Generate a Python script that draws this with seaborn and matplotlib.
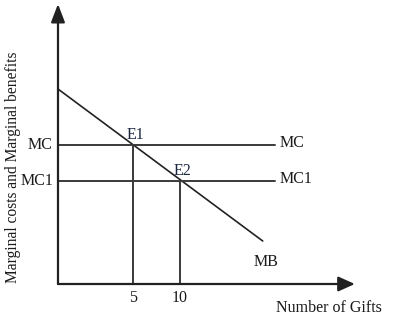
import matplotlib
matplotlib.use("Agg")
import matplotlib.pyplot as plt
import seaborn as sns
import pandas as pd

sns.set_style("white")
plt.rcParams['font.family'] = ['Liberation Serif', 'DejaVu Serif']

# Data (abstract units)
gift_ticks = [5, 10]
gift_labels = ["5", "10"]
mc_level = 13.9
mc1_level = 10.3
mb_x = [-2.98, 18.8]
mb_y = [19.5, 4.3]
cost_x = [-2.98, 20.1]
eq_x = [5, 10]
eq_y = [mc_level, mc1_level]
eq_labels = ["E1", "E2"]
x_axis_end = 28.6
y_axis_end = 28.0
origin_x = -2.98

fig = plt.figure(figsize=(3.97, 3.28), dpi=100)
ax = fig.add_axes([0, 0, 1, 1])
ax.set_xlim(-9.149, 33.085)
ax.set_ylim(-4.4, 28.4)
ax.axis("off")

line_col = "#3a3a3a"
lw = 1.4

mb = pd.DataFrame({"x": mb_x, "y": mb_y})
sns.lineplot(data=mb, x="x", y="y", ax=ax, color="#222222", lw=1.2, estimator=None, sort=False)
for lvl in [mc_level, mc1_level]:
    d = pd.DataFrame({"x": cost_x, "y": [lvl, lvl]})
    sns.lineplot(data=d, x="x", y="y", ax=ax, color=line_col, lw=lw, estimator=None, sort=False)
for xv, yv in zip(eq_x, eq_y):
    d = pd.DataFrame({"x": [xv, xv], "y": [0, yv]})
    sns.lineplot(data=d, x="x", y="y", ax=ax, color=line_col, lw=lw, estimator=None, sort=False)

# axes with arrows
ax.annotate("", xy=(x_axis_end, 0), xytext=(origin_x, 0),
            arrowprops=dict(arrowstyle="-|>,head_length=1.0,head_width=0.45", color="#222222", lw=1.6,
                            shrinkA=0, shrinkB=0))
ax.annotate("", xy=(origin_x, y_axis_end), xytext=(origin_x, 0),
            arrowprops=dict(arrowstyle="-|>,head_length=1.1,head_width=0.42", color="#222222", lw=1.6,
                            shrinkA=0, shrinkB=0))

fs = 11.5
txt = "#1a1a1a"
for xv, lab in zip(gift_ticks, gift_labels):
    ax.text(xv, -1.4, lab, ha="center", va="center", fontsize=fs, color=txt)
ax.text(origin_x - 0.6, mc_level, "MC", ha="right", va="center", fontsize=fs, color=txt)
ax.text(origin_x - 0.5, mc1_level, "MC1", ha="right", va="center", fontsize=fs, color=txt)
ax.text(cost_x[1] + 0.45, mc_level + 0.2, "MC", ha="left", va="center", fontsize=fs, color=txt)
ax.text(cost_x[1] + 0.45, mc1_level + 0.2, "MC1", ha="left", va="center", fontsize=fs, color=txt)
for xv, yv, lab in zip(eq_x, eq_y, eq_labels):
    ax.text(xv + 0.3, yv + 1.0, lab, ha="center", va="center", fontsize=fs, color="#1a2540")
ax.text(mb_x[1] - 1.0, mb_y[1] - 2.1, "MB", ha="left", va="center", fontsize=fs, color=txt)
ax.text(20.2, -2.35, "Number of Gifts", ha="left", va="center", fontsize=fs, color=txt)
ax.text(-7.75, 11.7, "Marginal costs and Marginal benefits", ha="center", va="center",
        rotation=90, fontsize=11.2, color=txt)

fig.savefig("out.png", dpi=100)
